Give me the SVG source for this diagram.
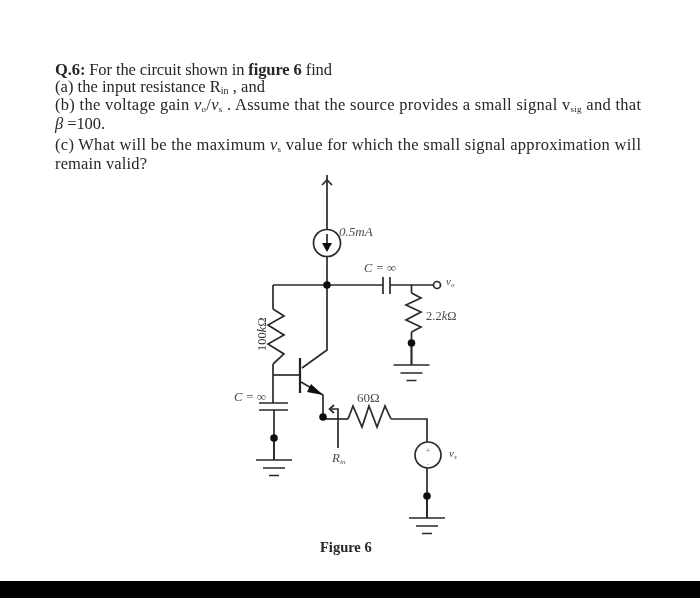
<svg xmlns="http://www.w3.org/2000/svg" width="700" height="598" viewBox="0 0 700 598">
<style>
.t{font-family:"Liberation Serif","Times New Roman",serif;font-size:16.5px;fill:#262626}
.l{font-family:"Liberation Serif","Times New Roman",serif;font-size:12.500px;fill:#4a4a4a}
.i{font-style:italic}
.w{fill:none;stroke:#2a2a2a;stroke-width:1.700;stroke-linejoin:miter}
.d{fill:#111}
</style>
<defs>
<filter id="soft" x="0" y="0" width="100%" height="100%"><feGaussianBlur stdDeviation="0.4"/></filter>
<g id="gnd"><path class="w" d="M-18 0H18M-11 8H11M-5 15.500H5M0 -22V0"/><circle class="d" cx="0" cy="-22" r="3.800"/></g>
</defs>
<rect width="700" height="598" fill="#fff"/>
<g filter="url(#soft)">
<g id="question">
<text class="t" x="55" y="74.500" textLength="277" lengthAdjust="spacing"><tspan font-weight="bold">Q.6:</tspan> For the circuit shown in <tspan font-weight="bold">figure 6</tspan> find</text>
<text class="t" x="55" y="92" textLength="210" lengthAdjust="spacing">(a) the input resistance R<tspan font-size="10" dy="2">in</tspan><tspan dy="-2"> , and</tspan></text>
<text class="t" x="55" y="110" textLength="586" lengthAdjust="spacing">(b) the voltage gain <tspan class="i">v</tspan><tspan font-size="9" dy="2">o</tspan><tspan dy="-2">/</tspan><tspan class="i">v</tspan><tspan font-size="9" dy="2">s</tspan><tspan dy="-2"> . Assume that the source provides a small signal v</tspan><tspan font-size="9" dy="2">sig</tspan><tspan dy="-2"> and that</tspan></text>
<text class="t" x="55" y="129" textLength="50" lengthAdjust="spacing"><tspan class="i">β</tspan> =100.</text>
<text class="t" x="55" y="149.500" textLength="586" lengthAdjust="spacing">(c) What will be the maximum <tspan class="i">v</tspan><tspan font-size="9" dy="2">s</tspan><tspan dy="-2"> value for which the small signal approximation will</tspan></text>
<text class="t" x="55" y="168.500" textLength="92" lengthAdjust="spacing">remain valid?</text>
</g>
<g id="connectors">
<path class="w" d="M327 175V229.500M327 256.500V285"/>
<path class="w" d="M322 185L327 180L332 185"/>
<path class="w" d="M273 285H383M390 285H433.500"/>
<path class="w" d="M273 285V309"/>
<path class="w" d="M273 364V403"/>
<path class="w" d="M274 410V460"/>
<path class="w" d="M273 375H300"/>
<path class="w" d="M327 285V350L302 368"/>
<path class="w" d="M301 382L323 395V417"/>
<path class="w" d="M323 419H348"/>
<path class="w" d="M391 419H427V442M427 468V518"/>
<path class="w" d="M411.500 285V293M411.500 332V365"/>
</g>
<g id="current-source-0.5mA">
<circle class="w" cx="327" cy="243" r="13.500"/>
<path class="w" d="M327 234V250"/>
<path class="d" d="M322 243H332L327 252Z"/>
<text class="l i" x="339" y="236" style="font-size:13px">0.5mA</text>
</g>
<g id="capacitor-output">
<path class="w" d="M383 277V294M390 277V294"/>
<text class="l i" x="364" y="272">C = ∞</text>
</g>
<g id="vo-terminal">
<circle cx="437" cy="285" r="3.500" fill="#fff" stroke="#2a2a2a" stroke-width="1.700"/>
<text class="l i" x="446" y="285" style="font-size:11px">v<tspan font-size="7" dy="2">o</tspan></text>
</g>
<g id="node-junction"><circle class="d" cx="327" cy="285" r="3.800"/></g>
<g id="resistor-2.2k">
<path class="w" d="M411.500 293L421 298L406 305L421 312L406 320L421 327L411.500 332"/>
<text class="l" x="426" y="320">2.2<tspan class="i">k</tspan>Ω</text>
</g>
<g id="ground-output"><use href="#gnd" x="411.500" y="365"/></g>
<g id="resistor-100k">
<path class="w" d="M273 309L284 316L268 325L284 335L268 344L284 354L273 364"/>
<text class="l" transform="translate(266 351) rotate(-90)" x="0" y="0" style="fill:#333">100<tspan class="i">k</tspan>Ω</text>
</g>
<g id="transistor">
<path d="M300 358V393" fill="none" stroke="#222" stroke-width="2.200"/>
<path class="d" d="M311 384L323 395L307 392Z"/>
</g>
<g id="capacitor-base">
<path class="w" d="M259 403H288M259 410H288"/>
<text class="l i" x="234" y="401">C = ∞</text>
</g>
<g id="ground-base"><use href="#gnd" x="274" y="460"/></g>
<g id="emitter-node"><circle class="d" cx="323" cy="417" r="3.800"/></g>
<g id="resistor-60">
<path class="w" d="M348 419L353 406L362 427L369 406L377 427L385 406L391 419"/>
<text class="l" x="357" y="402" style="font-size:13px">60Ω</text>
</g>
<g id="rin-indicator">
<path class="w" d="M338 448V409H330"/>
<path class="w" d="M334 405L329.500 409L334 413"/>
<text class="l i" x="332" y="462" style="font-size:13px">R<tspan font-size="7" dy="2">in</tspan></text>
</g>
<g id="source-vs">
<circle class="w" cx="428" cy="455" r="13"/>
<text x="428" y="453" text-anchor="middle" font-family="Liberation Sans, sans-serif" font-size="7" fill="#777">+</text>
<text x="428" y="466" text-anchor="middle" font-family="Liberation Sans, sans-serif" font-size="7" fill="#777">-</text>
<text class="l i" x="449" y="457" style="font-size:11px">v<tspan font-size="7" dy="2">s</tspan></text>
</g>
<g id="ground-source"><use href="#gnd" x="427" y="518"/></g>
<text class="t" x="320" y="552" font-weight="bold" style="font-size:14.500px">Figure 6</text>
</g>
<rect id="bottom-bar" x="0" y="581" width="700" height="17" fill="#000"/>
</svg>
